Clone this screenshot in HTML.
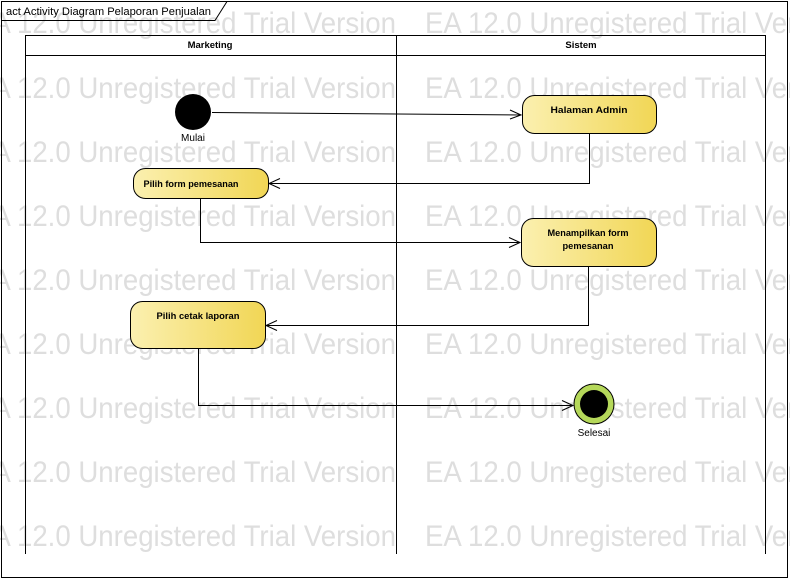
<!DOCTYPE html>
<html><head><meta charset="utf-8"><style>
html,body{margin:0;padding:0;background:#fff;}
svg{display:block;}
</style></head><body>
<svg width="790" height="580" viewBox="0 0 790 580" xmlns="http://www.w3.org/2000/svg" font-family="Liberation Sans, Arial, sans-serif">
<defs>
<linearGradient id="g" x1="0" y1="0" x2="1" y2="0">
<stop offset="0" stop-color="#fbf0b0"/><stop offset="1" stop-color="#f1d655"/>
</linearGradient>
</defs>
<rect x="0" y="0" width="790" height="580" fill="#fff"/>
<g fill="#dedede" font-size="30">
<text x="-26" y="33" textLength="422" lengthAdjust="spacingAndGlyphs">EA 12.0 Unregistered Trial Version</text><text x="425" y="33" textLength="422" lengthAdjust="spacingAndGlyphs">EA 12.0 Unregistered Trial Version</text>
<text x="-26" y="98" textLength="422" lengthAdjust="spacingAndGlyphs">EA 12.0 Unregistered Trial Version</text><text x="425" y="98" textLength="422" lengthAdjust="spacingAndGlyphs">EA 12.0 Unregistered Trial Version</text>
<text x="-26" y="162" textLength="422" lengthAdjust="spacingAndGlyphs">EA 12.0 Unregistered Trial Version</text><text x="425" y="162" textLength="422" lengthAdjust="spacingAndGlyphs">EA 12.0 Unregistered Trial Version</text>
<text x="-26" y="226" textLength="422" lengthAdjust="spacingAndGlyphs">EA 12.0 Unregistered Trial Version</text><text x="425" y="226" textLength="422" lengthAdjust="spacingAndGlyphs">EA 12.0 Unregistered Trial Version</text>
<text x="-26" y="290" textLength="422" lengthAdjust="spacingAndGlyphs">EA 12.0 Unregistered Trial Version</text><text x="425" y="290" textLength="422" lengthAdjust="spacingAndGlyphs">EA 12.0 Unregistered Trial Version</text>
<text x="-26" y="354" textLength="422" lengthAdjust="spacingAndGlyphs">EA 12.0 Unregistered Trial Version</text><text x="425" y="354" textLength="422" lengthAdjust="spacingAndGlyphs">EA 12.0 Unregistered Trial Version</text>
<text x="-26" y="418" textLength="422" lengthAdjust="spacingAndGlyphs">EA 12.0 Unregistered Trial Version</text><text x="425" y="418" textLength="422" lengthAdjust="spacingAndGlyphs">EA 12.0 Unregistered Trial Version</text>
<text x="-26" y="482" textLength="422" lengthAdjust="spacingAndGlyphs">EA 12.0 Unregistered Trial Version</text><text x="425" y="482" textLength="422" lengthAdjust="spacingAndGlyphs">EA 12.0 Unregistered Trial Version</text>
<text x="-26" y="546" textLength="422" lengthAdjust="spacingAndGlyphs">EA 12.0 Unregistered Trial Version</text><text x="425" y="546" textLength="422" lengthAdjust="spacingAndGlyphs">EA 12.0 Unregistered Trial Version</text>
</g>
<!-- frame -->
<rect x="1.5" y="1.5" width="786" height="576" fill="none" stroke="#000"/>
<path d="M1.5 20.5 H215 L227 1.5" fill="none" stroke="#000"/>
<text x="6" y="15" font-size="11" fill="#000" textLength="205" lengthAdjust="spacingAndGlyphs">act Activity Diagram Pelaporan Penjualan</text>
<!-- lanes -->
<g stroke="#000" fill="none">
<path d="M25.5 554 V35.5 H765.5 V554"/>
<path d="M396.5 35.5 V554"/>
<path d="M25.5 55.5 H765.5"/>
</g>
<g font-size="9.5" font-weight="bold" text-anchor="middle" fill="#000">
<text x="210" y="48">Marketing</text>
<text x="581" y="48">Sistem</text>
</g>
<!-- edges -->
<g stroke="#000" fill="none" stroke-width="1">
<path d="M212 112.5 L521 115"/>
<path d="M510 110 L521 115 L510 119"/>
<path d="M589.5 133 V183.5 H269"/>
<path d="M280 178.5 L269 183.5 L280 188.5"/>
<path d="M200.5 198 V242.5 H520"/>
<path d="M509 237.5 L520 242.5 L509 247.5"/>
<path d="M588.5 266 V325.5 H266"/>
<path d="M277 320.5 L266 325.5 L277 330.5"/>
<path d="M198.5 348 V405.5 H573"/>
<path d="M562 400.5 L573 405.5 L562 410.5"/>
</g>
<!-- start -->
<circle cx="193" cy="112" r="18" fill="#000"/>
<text x="193" y="141" font-size="10" text-anchor="middle">Mulai</text>
<!-- nodes -->
<g stroke="#000" stroke-width="1" fill="url(#g)">
<rect x="522.5" y="95.5" width="134" height="38" rx="12"/>
<rect x="133.5" y="168.5" width="135" height="30" rx="12"/>
<rect x="521.5" y="218.5" width="135" height="48" rx="12"/>
<rect x="130.5" y="301.5" width="135" height="47" rx="12"/>
</g>
<g font-size="9.5" font-weight="bold" text-anchor="middle" fill="#000">
<text x="589" y="113" textLength="77" lengthAdjust="spacingAndGlyphs">Halaman Admin</text>
<text x="191" y="187" textLength="95" lengthAdjust="spacingAndGlyphs">Pilih form pemesanan</text>
<text x="588" y="236" textLength="81" lengthAdjust="spacingAndGlyphs">Menampilkan form</text>
<text x="588" y="249" textLength="51" lengthAdjust="spacingAndGlyphs">pemesanan</text>
<text x="198" y="319" textLength="83" lengthAdjust="spacingAndGlyphs">Pilih cetak laporan</text>
</g>
<!-- end -->
<circle cx="594" cy="404" r="20" fill="#b5d85a" stroke="#000"/>
<circle cx="594" cy="404" r="14" fill="#000"/>
<text x="594" y="436" font-size="10" text-anchor="middle">Selesai</text>
</svg>
</body></html>
